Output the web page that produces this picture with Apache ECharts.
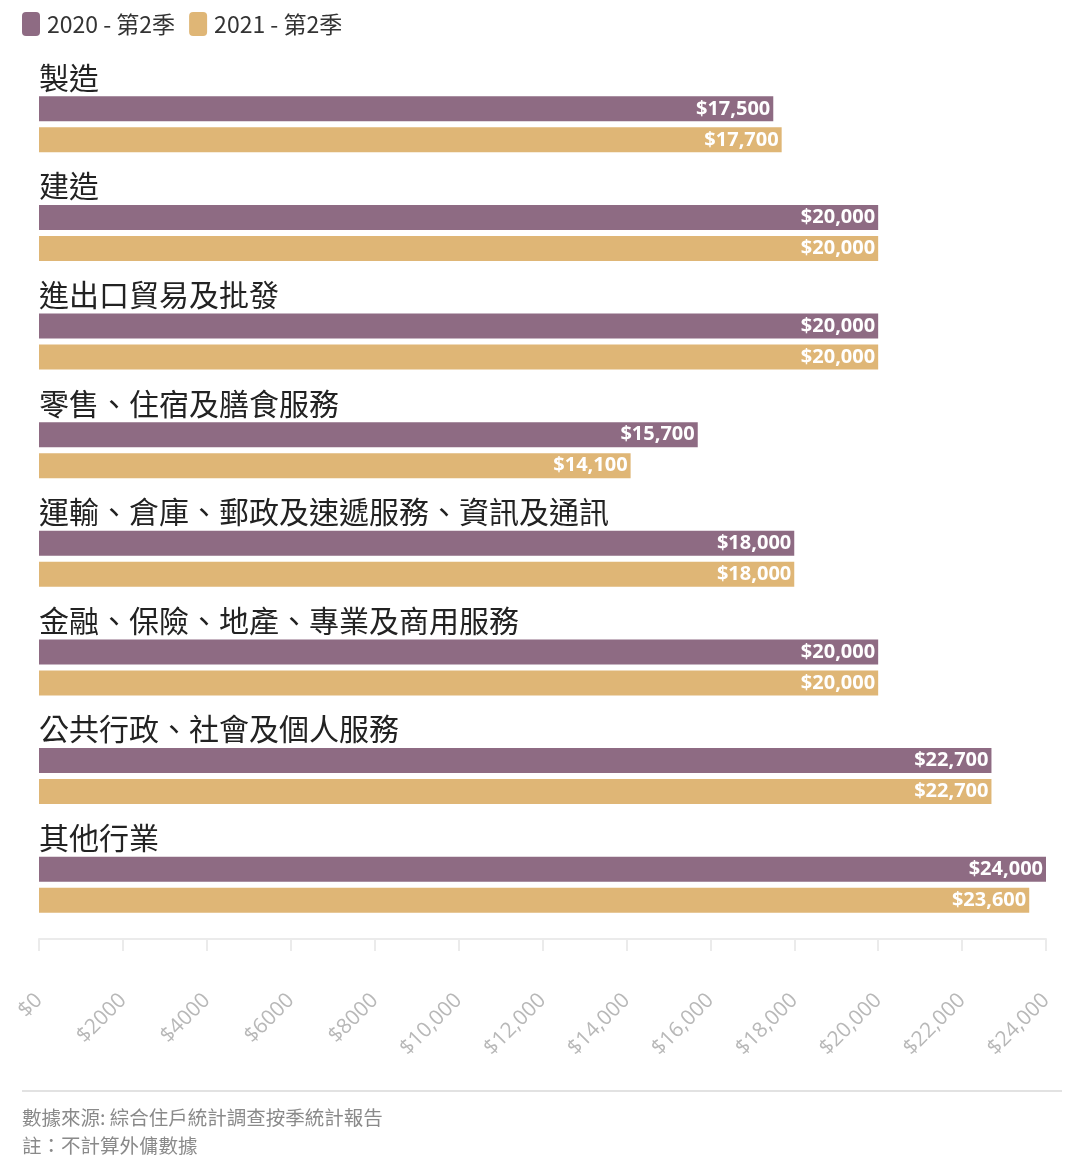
<!DOCTYPE html>
<html>
<head>
<meta charset="utf-8">
<script src="https://cdn.jsdelivr.net/npm/echarts@6/dist/echarts.min.js"></script>
<style>
  html, body { margin: 0; padding: 0; background: #fff; }
  #main { width: 1080px; height: 1169px; }
</style>
</head>
<body>
<div id="main"></div>
<script>
var categories = [
    '製造',
    '建造',
    '進出口貿易及批發',
    '零售、住宿及膳食服務',
    '運輸、倉庫、郵政及速遞服務、資訊及通訊',
    '金融、保險、地產、專業及商用服務',
    '公共行政、社會及個人服務',
    '其他行業'
];
var seriesNames = ['2020 - 第2季', '2021 - 第2季'];
var values2020 = [17500, 20000, 20000, 15700, 18000, 20000, 22700, 24000];
var values2021 = [17700, 20000, 20000, 14100, 18000, 20000, 22700, 23600];
var tickLabels = ['$0', '$2000', '$4000', '$6000', '$8000', '$10,000', '$12,000',
    '$14,000', '$16,000', '$18,000', '$20,000', '$22,000', '$24,000'];
var footnotes = ['數據來源: 綜合住戶統計調查按季統計報告', '註：不計算外傭數據'];

var cjk = '"Noto Sans CJK TC", "Noto Sans", sans-serif';
var colors = ['#8e6b83', '#dfb676'];

var myChart = echarts.init(document.getElementById('main'));

function fmtMoney(v) {
    return '$' + v.toLocaleString('en-US');
}

var valueLabel = {
    show: true,
    position: 'insideRight',
    distance: 3,
    color: '#fff',
    fontFamily: '"Open Sans", "Noto Sans", sans-serif',
    fontWeight: 'bold',
    fontSize: 20,
    formatter: function (p) { return fmtMoney(p.value); }
};

var option = {
    animation: false,
    color: colors,
    legend: {
        left: 17,
        top: 7,
        itemWidth: 18,
        itemHeight: 24,
        itemGap: 14,
        icon: 'path://M4,0 H14 Q18,0 18,4 V20 Q18,24 14,24 H4 Q0,24 0,20 V4 Q0,0 4,0 Z',
        textStyle: { fontFamily: cjk, fontSize: 23, color: '#333', padding: [0, 0, 0, 2] },
        data: seriesNames
    },
    grid: {
        left: 39,
        right: 34,
        top: 70,
        bottom: 230,
        containLabel: false
    },
    xAxis: {
        type: 'value',
        min: 0,
        max: 24000,
        interval: 2000,
        splitLine: { show: false },
        axisLine: { show: true, lineStyle: { color: '#ebebeb', width: 2 } },
        axisTick: { show: true, length: 12, lineStyle: { color: '#ebebeb', width: 2 } },
        axisLabel: {
            rotate: 45,
            margin: 58,
            color: '#b8b8b8',
            fontFamily: '"Open Sans", "Noto Sans", sans-serif',
            fontSize: 21,
            formatter: function (v) { return tickLabels[Math.round(v / 2000)]; }
        }
    },
    yAxis: {
        type: 'category',
        inverse: true,
        data: categories,
        axisLine: { show: false },
        axisTick: { show: false },
        axisLabel: {
            inside: true,
            interval: 0,
            showMinLabel: true,
            showMaxLabel: true,
            hideOverlap: false,
            margin: 0,
            color: '#222',
            fontFamily: cjk,
            fontSize: 30,
            lineHeight: 94,
            verticalAlign: 'middle',
            formatter: function (v) { return v + '\n '; }
        },
        z: 10
    },
    series: [
        {
            name: seriesNames[0],
            type: 'bar',
            data: values2020,
            barWidth: 25,
            barGap: '24%',
            label: valueLabel
        },
        {
            name: seriesNames[1],
            type: 'bar',
            data: values2021,
            barWidth: 25,
            label: valueLabel
        }
    ],
    graphic: [
        {
            type: 'line',
            shape: { x1: 22, y1: 1091, x2: 1062, y2: 1091 },
            style: { stroke: '#e2e2e2', lineWidth: 2 }
        },
        {
            type: 'text',
            left: 22,
            top: 1108,
            style: { text: footnotes[0], fill: '#8a8a8a', font: '19.5px ' + cjk }
        },
        {
            type: 'text',
            left: 22,
            top: 1136,
            style: { text: footnotes[1], fill: '#8a8a8a', font: '19.5px ' + cjk }
        }
    ]
};

myChart.setOption(option);
window.addEventListener('resize', function () {
    myChart.resize();
});
</script>
</body>
</html>
